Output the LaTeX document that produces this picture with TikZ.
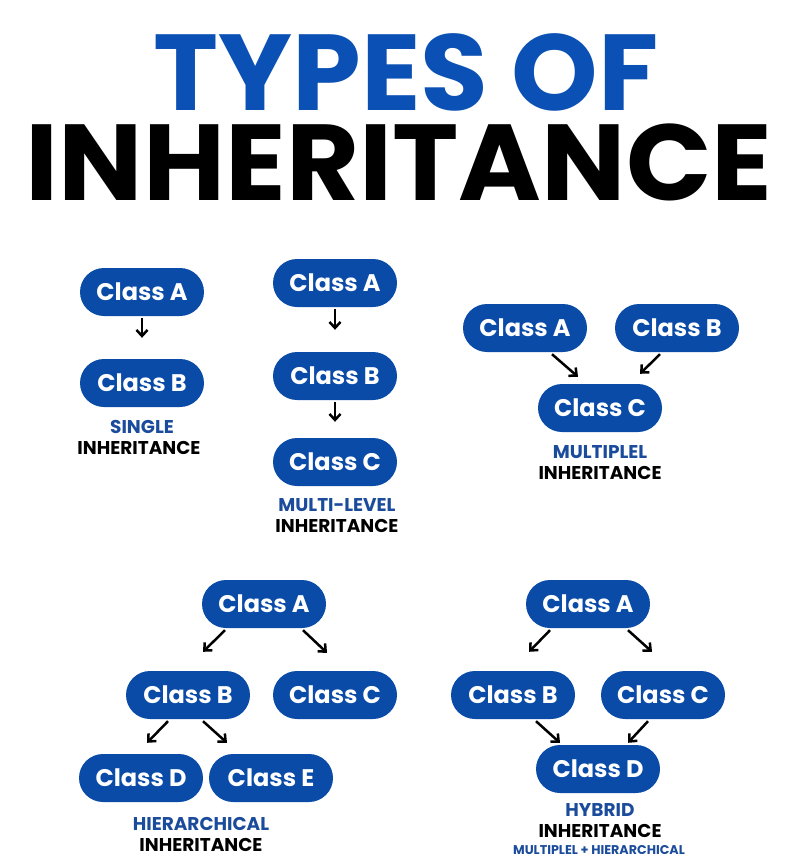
\documentclass[tikz,border=0pt]{standalone}
\usepackage{fontspec}
\setmainfont{Poppins}
\usetikzlibrary{arrows.meta}
\definecolor{clsblue}{HTML}{0A4BA8}
\definecolor{ttlblue}{HTML}{0B50B4}
\definecolor{lblblue}{HTML}{1B4C9C}

\begin{document}
\begin{tikzpicture}[x=1pt,y=1pt,
    cls/.style={rectangle,rounded corners=24pt,fill=clsblue,text=white,
      minimum width=124pt,minimum height=48pt,inner sep=0pt,
      font=\fontsize{24}{26}\selectfont\bfseries},
    lbl/.style={anchor=base,inner sep=0pt,font=\fontsize{18.5}{20}\selectfont\bfseries},
    arr/.style={-{Straight Barb[length=6pt,width=11pt]},line width=2.5pt}]
  \useasboundingbox (0,0) rectangle (800,-865);
  % title
  \node[anchor=base,inner sep=0pt,text=ttlblue,text depth=0pt,
    font=\fontsize{108}{110}\selectfont\bfseries] (ttl1) at (406,-110) {\scalebox{1.02}[1]{TYPES OF}};
  \node[anchor=base,inner sep=0pt,text height=74pt,
    font=\fontsize{108}{110}\selectfont\bfseries] (ttl2) at (399,-200) {\scalebox{1.04}[1]{INHERITANCE}};
  % single
  \node[cls] (sA) at (142,-292) {Class A};
  \node[cls] (sB) at (142,-383) {Class B};
  \draw[arr] ([yshift=-2pt]sA.south) -- ([yshift=21pt]sB.north);
  \node[lbl,text=lblblue] (sL1) at (142,-433) {SINGLE};
  \node[lbl] (sL2) at (139,-454) {INHERITANCE};
  % multi-level
  \node[cls] (mA) at (335,-283) {Class A};
  \node[cls] (mB) at (335,-376) {Class B};
  \node[cls] (mC) at (335,-462) {Class C};
  \draw[arr] ([yshift=-2pt]mA.south) -- ([yshift=22pt]mB.north);
  \draw[arr] ([yshift=-2pt]mB.south) -- ([yshift=16pt]mC.north);
  \node[lbl,text=lblblue] (mL1) at (337,-511) {MULTI-LEVEL};
  \node[lbl] (mL2) at (337,-532) {INHERITANCE};
  % multiple
  \node[cls] (uA) at (525,-328) {Class A};
  \node[cls] (uB) at (677,-328) {Class B};
  \node[cls] (uC) at (600,-408) {Class C};
  \draw[arr] ([xshift=27pt,yshift=-2pt]uA.south) -- ([xshift=-22pt,yshift=7pt]uC.north);
  \draw[arr] ([xshift=-17pt,yshift=-2pt]uB.south) -- ([xshift=40pt,yshift=10pt]uC.north);
  \node[lbl,text=lblblue] (uL1) at (600,-458) {MULTIPLEL};
  \node[lbl] (uL2) at (600,-479) {INHERITANCE};
  % hierarchical
  \node[cls] (hA) at (264,-604) {Class A};
  \node[cls] (hB) at (188,-695) {Class B};
  \node[cls] (hC) at (335,-695) {Class C};
  \node[cls] (hD) at (141,-778) {Class D};
  \node[cls] (hE) at (271,-778) {Class E};
  \draw[arr] ([xshift=-39pt,yshift=-2pt]hA.south) -- ([xshift=15pt,yshift=19pt]hB.north);
  \draw[arr] ([xshift=39pt,yshift=-2pt]hA.south) -- ([xshift=-8pt,yshift=18pt]hC.north);
  \draw[arr] ([xshift=-20pt,yshift=-2pt]hB.south) -- ([xshift=6pt,yshift=11pt]hD.north);
  \draw[arr] ([xshift=15pt,yshift=-2pt]hB.south) -- ([xshift=-44pt,yshift=11pt]hE.north);
  \node[lbl,text=lblblue] (hL1) at (201,-830) {HIERARCHICAL};
  \node[lbl] (hL2) at (201,-851) {INHERITANCE};
  % hybrid
  \node[cls] (yA) at (588,-604) {Class A};
  \node[cls] (yB) at (513,-695) {Class B};
  \node[cls] (yC) at (663,-695) {Class C};
  \node[cls] (yD) at (598,-769) {Class D};
  \draw[arr] ([xshift=-38pt,yshift=-2pt]yA.south) -- ([xshift=16pt,yshift=19pt]yB.north);
  \draw[arr] ([xshift=40pt,yshift=-2pt]yA.south) -- ([xshift=-11pt,yshift=19pt]yC.north);
  \draw[arr] ([xshift=23pt,yshift=-2pt]yB.south) -- ([xshift=-38pt,yshift=2pt]yD.north);
  \draw[arr] ([xshift=-15pt,yshift=-2pt]yC.south) -- ([xshift=30pt,yshift=2pt]yD.north);
  \node[lbl,text=lblblue] (yL1) at (600,-816) {HYBRID};
  \node[lbl] (yL2) at (600,-837) {INHERITANCE};
  \node[lbl,text=lblblue,font=\fontsize{12.7}{13}\selectfont\bfseries] (yL3) at (599,-854) {MULTIPLEL + HIERARCHICAL};
\end{tikzpicture}
\end{document}
